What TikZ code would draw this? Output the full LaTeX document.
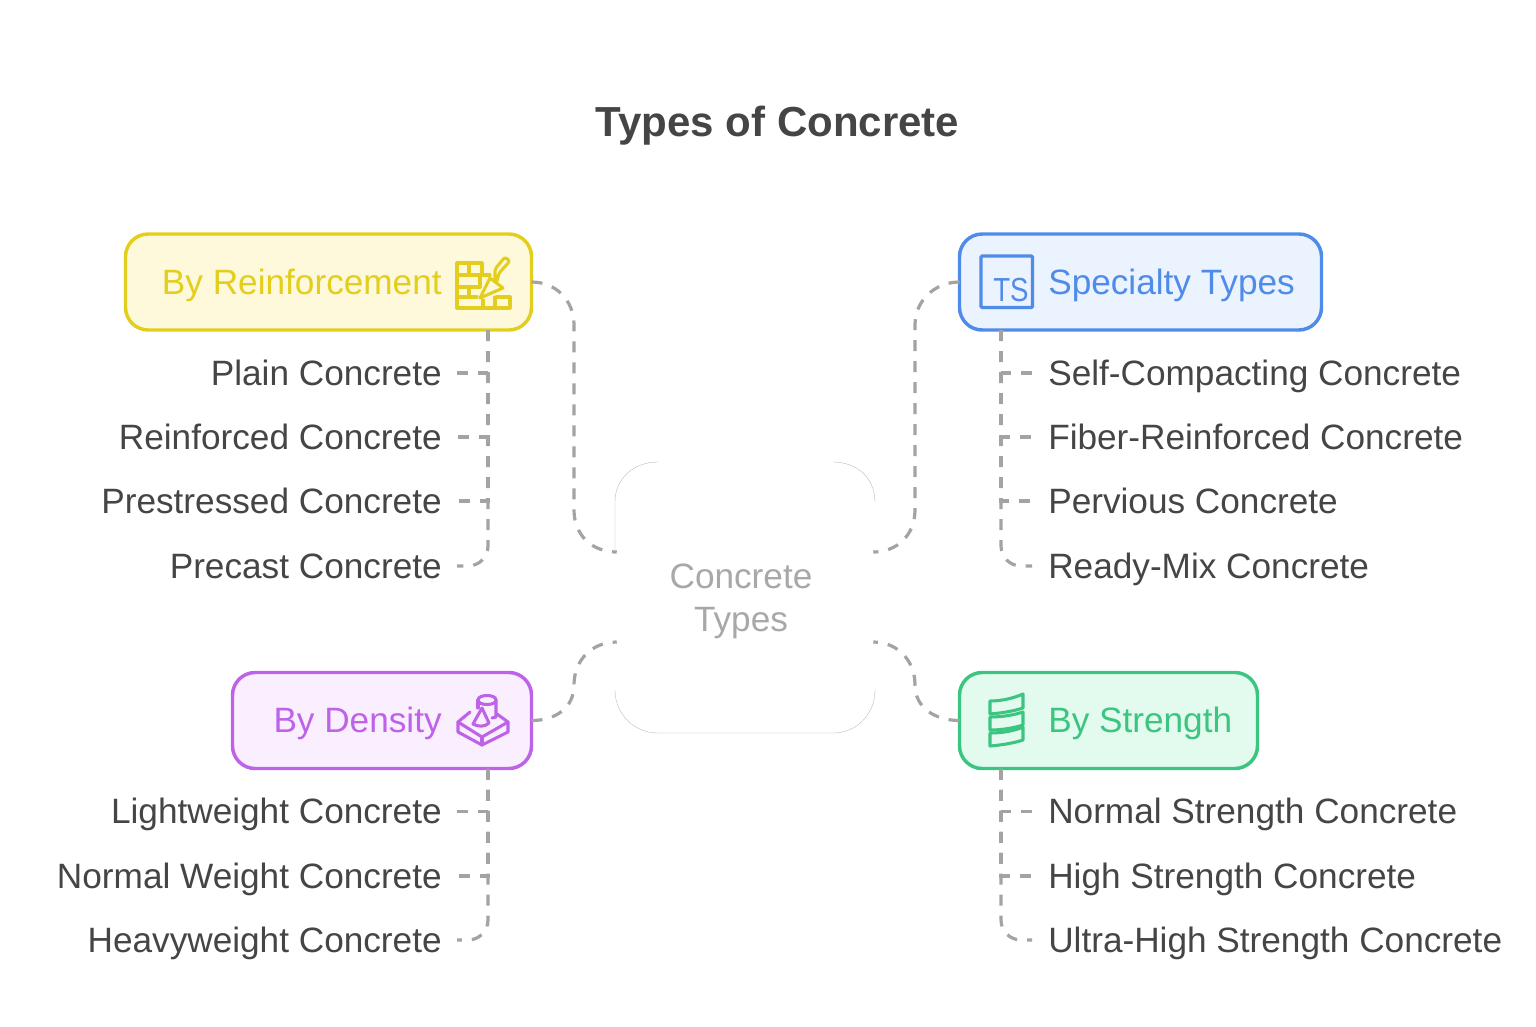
\documentclass[tikz,border=0pt]{standalone}
\usepackage{fontspec}
\usepackage{graphicx}
\setmainfont{Liberation Sans}
\usetikzlibrary{calc,positioning}

\definecolor{inkc}{HTML}{454545}
\definecolor{linkc}{HTML}{A3A3A3}
\definecolor{hubc}{HTML}{A8A8A8}
\definecolor{yelc}{HTML}{E3CE1E}
\definecolor{yelf}{HTML}{FEF9DB}
\definecolor{bluc}{HTML}{4F8BE8}
\definecolor{bluf}{HTML}{EBF3FF}
\definecolor{purc}{HTML}{BE62E8}
\definecolor{purf}{HTML}{FAEFFF}
\definecolor{grnc}{HTML}{3CC581}
\definecolor{grnf}{HTML}{E2FBEE}

\begin{document}
\begin{tikzpicture}[
    x=0.75pt,y=-0.75pt,
    txt/.style={font=\fontsize{26.4pt}{31pt}\selectfont,text height=19.5pt,text depth=1.5pt,inner ysep=0pt,inner xsep=12pt},
    leafl/.style={txt,anchor=east,text=inkc,inner xsep=11.25pt},
    leafr/.style={txt,anchor=west,text=inkc},
    group/.style={draw=#1,line width=2.6pt,rounded corners=17pt,minimum height=72pt,anchor=west,outer sep=0pt},
    link/.style={draw=linkc,line width=2.4pt,dash pattern=on 8.25pt off 7.5pt},
    hubline/.style={draw=black!30,line width=0.25pt},
    icon/.style={draw=#1,line width=2.3pt,line join=round,line cap=round},
  ]
  \useasboundingbox (0,0) rectangle (1536,1026);

  \node (title) at (777.5,126) [font=\fontsize{31.5pt}{36pt}\selectfont\bfseries,text=inkc] {Types of Concrete};

  \node (rein) at (125.5,282) [group=yelc,fill=yelf,minimum width=304.5pt] {};
  \node (spec) at (959.5,282) [group=bluc,fill=bluf,minimum width=271.5pt] {};
  \node (dens) at (232.5,720.5) [group=purc,fill=purf,minimum width=224.25pt] {};
  \node (stre) at (959.5,720.5) [group=grnc,fill=grnf,minimum width=223.5pt] {};

  \node (rein-lab) at (457,282) [leafl,text=yelc] {By Reinforcement};
  \node (spec-lab) at (1032,282) [leafr,text=bluc] {Specialty Types};
  \node (dens-lab) at (457,720.5) [leafl,text=purc] {By Density};
  \node (stre-lab) at (1032,720.5) [leafr,text=grnc] {By Strength};

  % centre
  \node (hub) at (745,601.5) [minimum width=195pt,minimum height=203pt,inner sep=0pt,align=center,text=hubc,
    font=\fontsize{26.4pt}{32pt}\selectfont] {\hspace*{-6pt}Concrete\\\hspace*{-6pt}Types};
  \draw[hubline] (615,552) -- (615,502) .. controls (615,478) and (634,462) .. (658,462);
  \draw[hubline] (833,462) .. controls (857,462) and (875,478) .. (875,502);
  \draw[hubline] (615,690) .. controls (615,714) and (634,733) .. (658,733) -- (833,733) .. controls (857,733) and (875,714) .. (875,690);

  \draw[link] (rein.east) .. controls +(24,0) and (574,300) .. (574,325) -- (574,510) .. controls (574,535) and (592,552) .. ($(hub.west)+(2,-49.5)$);
  \draw[link] (spec.west) .. controls +(-24,0) and (915,300) .. (915,325) -- (915,510) .. controls (915,535) and (897,552) .. ($(hub.east)+(-2,-49.5)$);
  \draw[link] (dens.east) .. controls +(24,0) and (574,708) .. (574,685) .. controls (574,660) and (592,642) .. ($(hub.west)+(2,40.5)$);
  \draw[link] (stre.west) .. controls +(-24,0) and (915,708) .. (915,685) .. controls (915,660) and (897,642) .. ($(hub.east)+(-2,40.5)$);

  \coordinate (rein-t) at (488,0 |- rein.south);
  \coordinate (spec-t) at (1001,0 |- spec.south);
  \coordinate (dens-t) at (488,0 |- dens.south);
  \coordinate (stre-t) at (1001,0 |- stre.south);

  \foreach \y/\t [count=\i] in {373/Plain Concrete,437/Reinforced Concrete,501/Prestressed Concrete,566/Precast Concrete}
  {
    \node (rein-\i) at (457,\y) [leafl] {\t};
  }
  \foreach \y/\t [count=\i] in {373/Self-Compacting Concrete,437/Fiber-Reinforced Concrete,501/Pervious Concrete,566/Ready-Mix Concrete}
  {
    \node (spec-\i) at (1032,\y) [leafr] {\t};
  }
  \foreach \y/\t [count=\i] in {811.5/Lightweight Concrete,876/Normal Weight Concrete,940/Heavyweight Concrete}
  {
    \node (dens-\i) at (457,\y) [leafl] {\t};
  }
  \foreach \y/\t [count=\i] in {811.5/Normal Strength Concrete,876/High Strength Concrete,940/Ultra-High Strength Concrete}
  {
    \node (stre-\i) at (1032,\y) [leafr] {\t};
  }

  \foreach \i in {1,2,3}
  {
    \draw[link] (rein-t) |- (rein-\i.east);
    \draw[link] (spec-t) |- (spec-\i.west);
  }
  \foreach \i in {1,2}
  {
    \draw[link] (dens-t) |- (dens-\i.east);
    \draw[link] (stre-t) |- (stre-\i.west);
  }
  \draw[link,rounded corners=15pt] (rein-t) |- (rein-4.east);
  \draw[link,rounded corners=15pt] (spec-t) |- (spec-4.west);
  \draw[link,rounded corners=15pt] (dens-t) |- (dens-3.east);
  \draw[link,rounded corners=15pt] (stre-t) |- (stre-3.west);

  % wall and trowel
  \draw[icon=yelc] (482,275) -- (482,263) -- (457,263) -- (457,308) -- (510,308) -- (510,297) -- (497,297);
  \draw[icon=yelc] (457,275) -- (490,275);
  \draw[icon=yelc] (457,287) -- (480,287);
  \draw[icon=yelc] (457,297) -- (477,297);
  \draw[icon=yelc] (469,263) -- (469,275);
  \draw[icon=yelc] (469,287) -- (469,297);
  \draw[icon=yelc] (480,275) -- (480,287);
  \draw[icon=yelc] (483,300) -- (483,308);
  \draw[icon=yelc] (495,297) -- (495,308);
  \draw[icon=yelc] (480,298) -- (490,278) -- (503,288) -- cycle;
  \draw[icon=yelc,rounded corners=2pt] (495,279) -- (495,269) -- (505,257) -- (510,261) -- (499,273) -- (497,281);

  % TS square
  \draw[bluc,line width=2.5pt,rounded corners=1pt] (981,256) rectangle (1032.5,307.5);
  \node (ts) at (1011,290) [font=\fontsize{25pt}{25pt}\selectfont,text=bluc,inner sep=0pt] {\scalebox{0.83}[1]{TS}};

  % blocks
  \draw[icon=purc] (470,712) -- (458,722) -- (482,737) -- (508,722) -- (497,714);
  \draw[icon=purc] (458,722) -- (458,732) -- (482,745) -- (508,732) -- (508,722);
  \draw[icon=purc] (482,737) -- (482,745);
  \draw[icon=purc] (482,708) -- (473,724) .. controls (478,727) and (485,727) .. (489,723) -- cycle;
  \draw[icon=purc] (478,700) .. controls (478,694) and (496,694) .. (496,700) .. controls (496,706) and (478,706) .. (478,700);
  \draw[icon=purc] (478,700) -- (478,708);
  \draw[icon=purc] (496,700) -- (496,717) -- (492,718);

  % stack
  \draw[icon=grnc] (990,701) .. controls (1002,701) and (1014,698) .. (1023,694) -- (1023,708) .. controls (1014,711) and (1002,713) .. (990,714) -- cycle;
  \draw[icon=grnc] (990,717) .. controls (1002,717) and (1014,715) .. (1023,712) -- (1023,725) .. controls (1014,728) and (1002,730) .. (990,730) -- cycle;
  \draw[icon=grnc] (990,733) .. controls (1002,733) and (1014,731) .. (1023,727) -- (1023,740) .. controls (1014,743) and (1002,745) .. (990,746) -- cycle;
\end{tikzpicture}
\end{document}
